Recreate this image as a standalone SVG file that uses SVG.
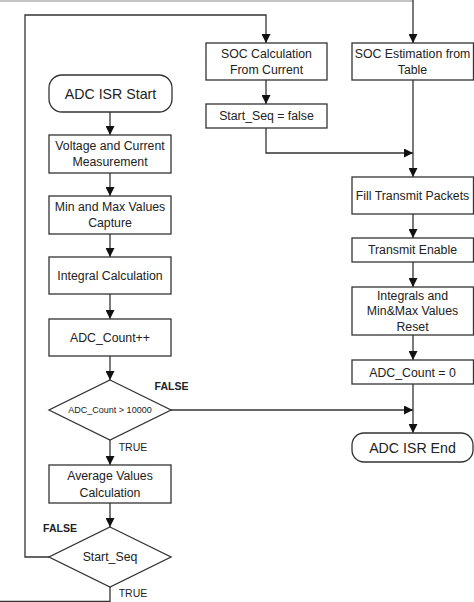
<svg xmlns="http://www.w3.org/2000/svg" width="474" height="602" viewBox="0 0 474 602">
<defs>
<marker id="ah" viewBox="0 0 10 10" refX="10" refY="5" markerWidth="9" markerHeight="9" markerUnits="userSpaceOnUse" orient="auto"><path d="M0,0 L10,5 L0,10 z" fill="#111"/></marker>
<style>
.box{fill:#fff;stroke:#333;stroke-width:1.3}
.ln{fill:none;stroke:#333;stroke-width:1.3}
.ar{fill:none;stroke:#333;stroke-width:1.3;marker-end:url(#ah)}
text{font-family:"Liberation Sans",Arial,sans-serif;fill:#222;text-anchor:middle;dominant-baseline:central}
.t{font-size:12.3px}
.big{font-size:14.2px}
.sm{font-size:9px}
.lbl{font-size:10.5px}
.b{font-weight:bold}
</style>
</defs>
<rect width="474" height="602" fill="#fff"/>
<g id="connectors">
<line x1="0" y1="1" x2="413" y2="1" stroke="#c4c4c4" stroke-width="2"/>
<path class="ar" d="M413,0 V43"/>
<path class="ar" d="M110,112 V135"/>
<path class="ar" d="M110,173 V196"/>
<path class="ar" d="M110,234 V257"/>
<path class="ar" d="M110,294 V319"/>
<path class="ar" d="M110,356 V380"/>
<path class="ar" d="M110,440 V465"/>
<path class="ar" d="M110,503 V527"/>
<path class="ar" d="M49,557 H25 V15 H266 V43"/>
<path class="ln" d="M110,587 V601.5 H0"/>
<path class="ar" d="M266,80 V104"/>
<path class="ar" d="M266,128 V153 H413"/>
<path class="ar" d="M413,80 V177"/>
<path class="ar" d="M413,214 V238"/>
<path class="ar" d="M413,262 V287"/>
<path class="ar" d="M413,335 V360"/>
<path class="ar" d="M413,384 V433"/>
<path class="ar" d="M171,410 H413"/>
</g>
<g id="adc-isr-start"><rect class="box" x="49" y="75" width="123" height="37" rx="13"/><text class="big" x="110.5" y="93.5">ADC ISR Start</text></g>
<g id="voltage-current"><rect class="box" x="49" y="135" width="122" height="38"/><text class="t" x="110" y="146">Voltage and Current</text><text class="t" x="110" y="162">Measurement</text></g>
<g id="min-max"><rect class="box" x="49" y="196" width="122" height="38"/><text class="t" x="110" y="207">Min and Max Values</text><text class="t" x="110" y="223">Capture</text></g>
<g id="integral"><rect class="box" x="49" y="257" width="122" height="37"/><text class="t" x="110" y="275.5">Integral Calculation</text></g>
<g id="adc-count-inc"><rect class="box" x="49" y="319" width="122" height="37"/><text class="t" x="110" y="337.5">ADC_Count++</text></g>
<g id="decision-count"><polygon class="box" points="110,380 171,410 110,440 49,410"/><text class="sm" x="110" y="410">ADC_Count &gt; 10000</text><text class="lbl b" x="171.5" y="386">FALSE</text><text class="lbl" x="133" y="447">TRUE</text></g>
<g id="average"><rect class="box" x="49" y="465" width="122" height="38"/><text class="t" x="110" y="476">Average Values</text><text class="t" x="110" y="492.5">Calculation</text></g>
<g id="decision-start-seq"><polygon class="box" points="110,527 171,557 110,587 49,557"/><text class="t" x="110" y="557">Start_Seq</text><text class="lbl b" x="60" y="528">FALSE</text><text class="lbl" x="133" y="593">TRUE</text></g>
<g id="soc-calc"><rect class="box" x="206" y="43" width="121" height="37"/><text class="t" x="266.5" y="53.5">SOC Calculation</text><text class="t" x="266.5" y="70">From Current</text></g>
<g id="start-seq-false"><rect class="box" x="206" y="104" width="121" height="24"/><text class="t" x="266.5" y="116">Start_Seq = false</text></g>
<g id="soc-estimation"><rect class="box" x="352" y="43" width="121.5" height="37"/><text class="t" x="412.5" y="53.5">SOC Estimation from</text><text class="t" x="412.5" y="70">Table</text></g>
<g id="fill-transmit"><rect class="box" x="352" y="177" width="121.5" height="37"/><text class="t" x="412.5" y="195.5">Fill Transmit Packets</text></g>
<g id="transmit-enable"><rect class="box" x="352" y="238" width="121.5" height="24"/><text class="t" x="412.5" y="250">Transmit Enable</text></g>
<g id="reset"><rect class="box" x="352" y="287" width="121.5" height="48"/><text class="t" x="412.5" y="295.5">Integrals and</text><text class="t" x="412.5" y="311">Min&amp;Max Values</text><text class="t" x="412.5" y="327">Reset</text></g>
<g id="adc-count-zero"><rect class="box" x="352" y="360" width="121.5" height="24"/><text class="t" x="412.5" y="372.5">ADC_Count = 0</text></g>
<g id="adc-isr-end"><rect class="box" x="352" y="433" width="121" height="29" rx="12"/><text class="big" x="412.5" y="447.5">ADC ISR End</text></g>
</svg>
